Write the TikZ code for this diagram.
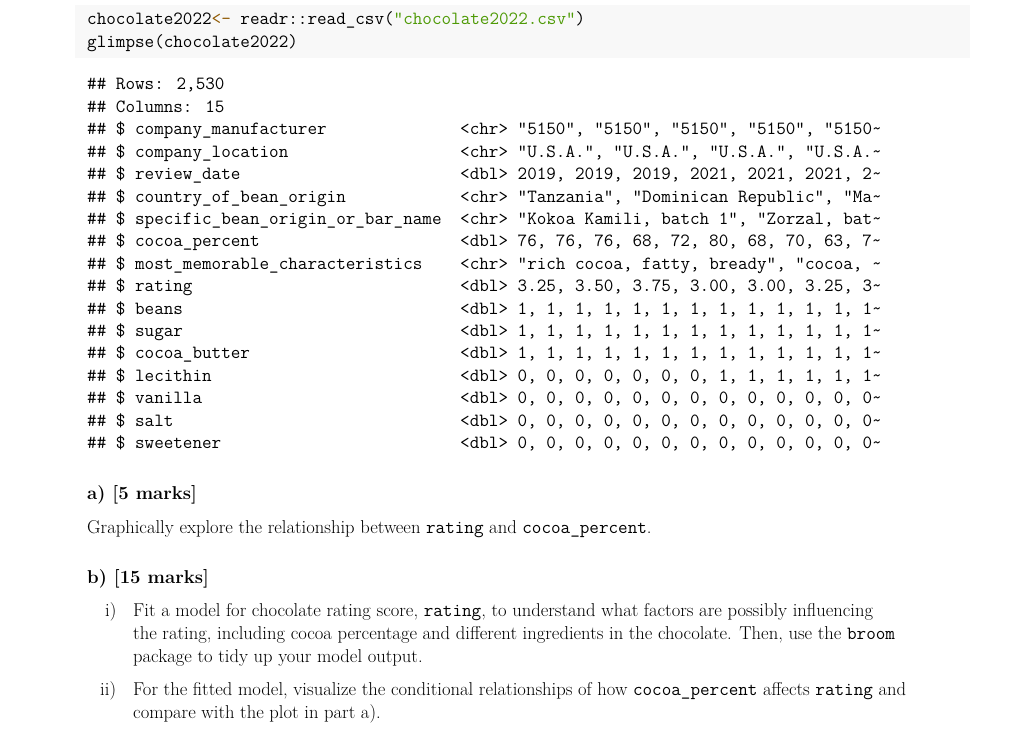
\documentclass[tikz,border=0pt]{standalone}
\usepackage{xcolor}
\definecolor{codebg}{HTML}{F8F8F8}
\definecolor{strg}{HTML}{4E9A06}
\definecolor{opc}{HTML}{8F5902}
\begin{document}
\begin{tikzpicture}[x=1pt,y=-1pt,
  tt/.style={anchor=base west,inner sep=0pt,font=\fontsize{18.6}{22}\selectfont\ttfamily},
  rm/.style={anchor=base west,inner sep=0pt,font=\fontsize{18.6}{22}\selectfont},
  bf/.style={anchor=base west,inner sep=0pt,font=\fontsize{18.6}{22}\selectfont\bfseries}]
\useasboundingbox (0,0) rectangle (1024,738);
\fill[white] (0,0) rectangle (1024,738);
\fill[codebg] (75,5) rectangle (970,58);
\node[tt] (c1) at (87,25) {chocolate2022\textcolor{opc}{<-} readr::read\_csv(\textcolor{strg}{"chocolate2022.csv"})};
\node[tt] (c2) at (87,48) {glimpse(chocolate2022)};
\foreach \i/\a/\b in {
 0/{\#\# Rows: 2,530}/{},
 1/{\#\# Columns: 15}/{},
 2/{\#\# \$ company\_manufacturer}/{<chr> "5150", "5150", "5150", "5150", "5150\textasciitilde},
 3/{\#\# \$ company\_location}/{<chr> "U.S.A.", "U.S.A.", "U.S.A.", "U.S.A.\textasciitilde},
 4/{\#\# \$ review\_date}/{<dbl> 2019, 2019, 2019, 2021, 2021, 2021, 2\textasciitilde},
 5/{\#\# \$ country\_of\_bean\_origin}/{<chr> "Tanzania", "Dominican Republic", "Ma\textasciitilde},
 6/{\#\# \$ specific\_bean\_origin\_or\_bar\_name}/{<chr> "Kokoa Kamili, batch 1", "Zorzal, bat\textasciitilde},
 7/{\#\# \$ cocoa\_percent}/{<dbl> 76, 76, 76, 68, 72, 80, 68, 70, 63, 7\textasciitilde},
 8/{\#\# \$ most\_memorable\_characteristics}/{<chr> "rich cocoa, fatty, bready", "cocoa, \textasciitilde},
 9/{\#\# \$ rating}/{<dbl> 3.25, 3.50, 3.75, 3.00, 3.00, 3.25, 3\textasciitilde},
 10/{\#\# \$ beans}/{<dbl> 1, 1, 1, 1, 1, 1, 1, 1, 1, 1, 1, 1, 1\textasciitilde},
 11/{\#\# \$ sugar}/{<dbl> 1, 1, 1, 1, 1, 1, 1, 1, 1, 1, 1, 1, 1\textasciitilde},
 12/{\#\# \$ cocoa\_butter}/{<dbl> 1, 1, 1, 1, 1, 1, 1, 1, 1, 1, 1, 1, 1\textasciitilde},
 13/{\#\# \$ lecithin}/{<dbl> 0, 0, 0, 0, 0, 0, 0, 1, 1, 1, 1, 1, 1\textasciitilde},
 14/{\#\# \$ vanilla}/{<dbl> 0, 0, 0, 0, 0, 0, 0, 0, 0, 0, 0, 0, 0\textasciitilde},
 15/{\#\# \$ salt}/{<dbl> 0, 0, 0, 0, 0, 0, 0, 0, 0, 0, 0, 0, 0\textasciitilde},
 16/{\#\# \$ sweetener}/{<dbl> 0, 0, 0, 0, 0, 0, 0, 0, 0, 0, 0, 0, 0\textasciitilde}}{
 \node[tt] (l\i) at (87,{90+22.4*\i}) {\a};
 \node[tt] (r\i) at (460,{90+22.4*\i}) {\b};
}
\node[bf] (qa) at (87,499) {a) [5 marks]};
\node[rm] (ta) at (87,533) {Graphically explore the relationship between \texttt{rating} and \texttt{cocoa\_percent}.};
\node[bf] (qb) at (87,583) {b) [15 marks]};
\node[rm] (i1) at (105,616) {i)};
\node[rm] (i1a) at (133,616) {Fit a model for chocolate rating score, \texttt{rating}, to understand what factors are possibly influencing};
\node[rm] (i1b) at (133,639) {the rating, including cocoa percentage and different ingredients in the chocolate. Then, use the \texttt{broom}};
\node[rm] (i1c) at (133,662) {package to tidy up your model output.};
\node[rm] (i2) at (100,695) {ii)};
\node[rm] (i2a) at (133,695) {For the fitted model, visualize the conditional relationships of how \texttt{cocoa\_percent} affects \texttt{rating} and};
\node[rm] (i2b) at (133,718) {compare with the plot in part a).};
\end{tikzpicture}
\end{document}
